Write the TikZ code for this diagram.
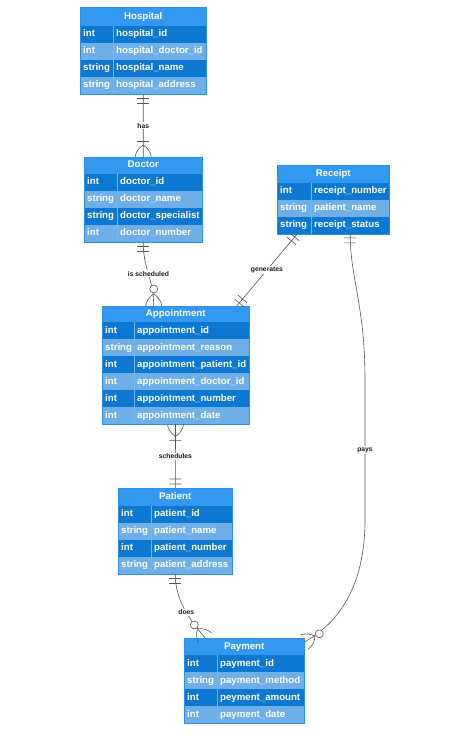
\documentclass[tikz,border=0pt]{standalone}
\usepackage{fontspec}
\setmainfont{Liberation Sans}
\usepackage{tikz}
\usetikzlibrary{decorations.markings}

\definecolor{headblue}{RGB}{51,153,240}
\definecolor{rowdark}{RGB}{12,120,210}
\definecolor{rowlight}{RGB}{110,175,232}
\definecolor{edgegray}{RGB}{85,85,85}

\tikzset{
  entbox/.style={inner sep=0pt},
  entline/.style={draw=headblue!80!rowdark,line width=.6bp},
  enthead/.style={fill=headblue,inner sep=0pt,text=white,text height=7bp,text depth=2bp,font=\bfseries\fontsize{9.7}{11}\selectfont},
  enttext/.style={inner xsep=3bp,inner ysep=0pt,text=white,text height=7bp,text depth=2bp,font=\bfseries\fontsize{9.7}{11}\selectfont},
  coldiv/.style={draw=headblue!70!white,line width=.3bp},
  rel/.style={draw=edgegray,line width=.6bp},
  rellabel/.style={fill=white,inner sep=1bp,text=black!90,font=\bfseries\fontsize{6.8}{8}\selectfont},
  erbar/.style={draw=edgegray,line width=.6bp},
  % ends of a relationship
  mandone start/.style={postaction={decorate,decoration={markings,mark=at position 0 with
    {\draw[erbar] (4bp,-6bp) -- (4bp,6bp) (9bp,-6bp) -- (9bp,6bp);}}}},
  mandone end/.style={postaction={decorate,decoration={markings,mark=at position 1 with
    {\draw[erbar] (-4bp,-6bp) -- (-4bp,6bp) (-9bp,-6bp) -- (-9bp,6bp);}}}},
  onemany start/.style={postaction={decorate,decoration={markings,mark=at position 0 with
    {\draw[erbar] (0bp,-8bp) .. controls (4bp,-8bp) and (10bp,-4bp) .. (12bp,0bp)
       .. controls (10bp,4bp) and (4bp,8bp) .. (0bp,8bp);
     \draw[erbar] (16bp,-6bp) -- (16bp,6bp);}}}},
  onemany end/.style={postaction={decorate,decoration={markings,mark=at position 1 with
    {\draw[erbar] (0bp,-8bp) .. controls (-4bp,-8bp) and (-10bp,-4bp) .. (-12bp,0bp)
       .. controls (-10bp,4bp) and (-4bp,8bp) .. (0bp,8bp);
     \draw[erbar] (-16bp,-6bp) -- (-16bp,6bp);}}}},
  zeromany end/.style={postaction={decorate,decoration={markings,mark=at position 1 with
    {\draw[erbar] (0bp,-8bp) .. controls (-4bp,-8bp) and (-10bp,-4bp) .. (-12bp,0bp)
       .. controls (-10bp,4bp) and (-4bp,8bp) .. (0bp,8bp);
     \filldraw[erbar,fill=white] (-17bp,0bp) circle[radius=4bp];}}}}
}

% name, left, top, width, type width, header height, rows, title, type/field list
\newcommand{\erentity}[9]{
  \pgfmathsetmacro\erh{#6+17*#7}
  \node[entbox,anchor=north west,minimum width=#4bp,minimum height=\erh bp] (#1) at (#2,#3) {};
  \node[enthead,anchor=north west,minimum width=#4bp,minimum height=#6bp] (#1-head) at (#1.north west) {#8};
  \foreach \ty/\nm [count=\i] in {#9} {
    \pgfmathsetmacro\rowy{#3+#6+17*(\i-1)}
    \ifodd\i\relax \def\rowcol{rowdark}\else \def\rowcol{rowlight}\fi
    \fill[\rowcol] (#2,\rowy) rectangle ++(#4,17);
    \draw[coldiv] (#2+#5,\rowy) -- ++(0,17);
    \node[enttext,anchor=west] (#1-t\i) at (#2,\rowy+8.5) {\ty};
    \node[enttext,anchor=west] (#1-n\i) at (#2+#5,\rowy+8.5) {\nm};
  }
  \draw[entline] (#1.north west) rectangle (#1.south east);
}

\begin{document}
\begin{tikzpicture}[x=1bp,y=-1bp]
  \useasboundingbox (0,0) rectangle (474,732);
  % entities
  \erentity{hospital}{80}{7}{126}{33}{19}{4}{Hospital}{int/hospital\_id, int/hospital\_doctor\_id, string/hospital\_name, string/hospital\_address}
  \erentity{doctor}{84}{157}{118}{33}{16.5}{4}{Doctor}{int/doctor\_id, string/doctor\_name, string/doctor\_specialist, int/doctor\_number}
  \erentity{receipt}{277}{165}{112}{34}{17.5}{3}{Receipt}{int/receipt\_number, string/patient\_name, string/receipt\_status}
  \erentity{appointment}{102}{306}{147}{32}{16}{6}{Appointment}{int/appointment\_id, string/appointment\_reason, int/appointment\_patient\_id, int/appointment\_doctor\_id, int/appointment\_number, int/appointment\_date}
  \erentity{patient}{118}{488}{114}{33}{17.5}{4}{Patient}{int/patient\_id, string/patient\_name, int/patient\_number, string/patient\_address}
  \erentity{payment}{184}{638}{120}{33}{17}{4}{Payment}{int/payment\_id, string/payment\_method, int/peyment\_amount, int/payment\_date}
  % relationships
  \coordinate (paystop) at (365,380);
  \coordinate (paysbot) at (365,520);
  \draw[rel,mandone start,onemany end] (hospital) -- node[rellabel]{has} (doctor);
  \draw[rel,mandone start,zeromany end] (doctor.south) .. controls +(0,28) and +(0,-28)
    .. node[rellabel]{is scheduled} ([xshift=-22bp]appointment.north);
  \draw[rel,mandone start,mandone end] ([xshift=-36bp]receipt.south) -- node[rellabel]{generates} ([xshift=61bp]appointment.north);
  \draw[rel,onemany start,mandone end] (appointment) -- node[rellabel]{schedules} (patient);
  \draw[rel,mandone start,zeromany end] (patient.south) .. controls +(0,27) and +(-15,-18)
    .. node[rellabel,pos=.55]{does} ([xshift=-39bp]payment.north);
  \draw[rel,mandone start,zeromany end] ([xshift=17bp]receipt.south) .. controls +(0,45) and +(0,-75) .. (paystop)
    -- node[rellabel]{pays} (paysbot) .. controls +(0,70) and +(31,-17) .. ([yshift=-4bp]payment.north east);
\end{tikzpicture}
\end{document}
